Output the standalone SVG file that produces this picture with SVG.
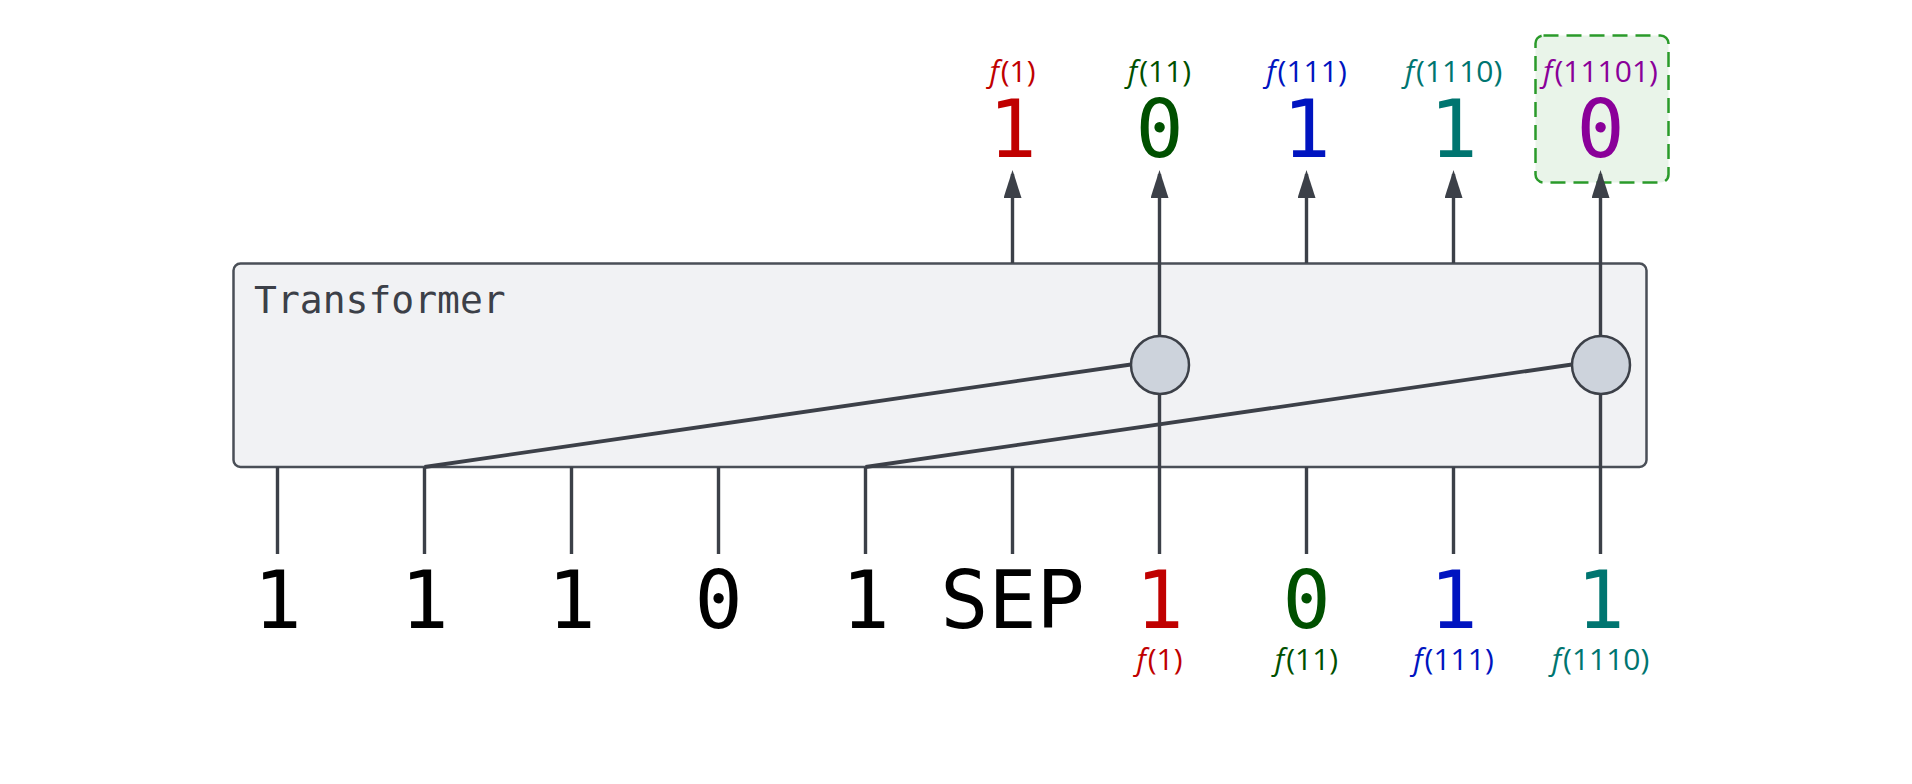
<svg xmlns="http://www.w3.org/2000/svg" width="1912" height="784" viewBox="0 0 1912 784">
<style>
.ln{stroke:#3c4048;stroke-width:3.4;fill:none}
.dg{stroke:#3c4048;stroke-width:3.8;fill:none}
.tok{font-family:"DejaVu Sans Mono",monospace;font-size:80px;text-anchor:middle}
.lab{font-family:"Open Sans","Noto Sans",sans-serif;font-size:30px;text-anchor:middle}
.it{font-style:italic}
.red{fill:#c00000}.grn{fill:#005000}.blu{fill:#0014c0}.tea{fill:#007570}.pur{fill:#8a0099}
</style>
<defs>
<marker id="ah" viewBox="0 0 28 18" markerWidth="28" markerHeight="18" refX="24" refY="9" orient="auto" markerUnits="userSpaceOnUse">
<path d="M0,0 L28,9 L0,18 z" fill="#3c4048"/>
</marker>
</defs>
<rect width="1912" height="784" fill="#ffffff"/>
<g id="transformer">
<rect x="233.5" y="263.5" width="1413" height="203.5" rx="7" fill="#f1f2f4" stroke="#4a4f57" stroke-width="2.5"/>
<text x="254" y="313" font-family="DejaVu Sans Mono,monospace" font-size="38" fill="#3c4048">Transformer</text>
</g>
<g id="highlight">
<rect x="1535.5" y="35.5" width="133" height="147" rx="8" fill="#e9f4e9" stroke="#2a9a2a" stroke-width="2.5" stroke-dasharray="15 8"/>
</g>
<g id="connectors">
<line class="ln" x1="277.5" y1="554" x2="277.5" y2="467"/>
<line class="ln" x1="424.5" y1="554" x2="424.5" y2="467"/>
<line class="ln" x1="571.5" y1="554" x2="571.5" y2="467"/>
<line class="ln" x1="718.5" y1="554" x2="718.5" y2="467"/>
<line class="ln" x1="865.5" y1="554" x2="865.5" y2="467"/>
<line class="ln" x1="1012.5" y1="554" x2="1012.5" y2="467"/>
<line class="ln" x1="1159.5" y1="554" x2="1159.5" y2="394"/>
<line class="ln" x1="1306.5" y1="554" x2="1306.5" y2="467"/>
<line class="ln" x1="1453.5" y1="554" x2="1453.5" y2="467"/>
<line class="ln" x1="1600.5" y1="554" x2="1600.5" y2="394"/>
<line class="dg" x1="424.5" y1="467" x2="1131" y2="364.5"/>
<line class="dg" x1="865.5" y1="467" x2="1572" y2="364.5"/>
<line class="ln" x1="1012.5" y1="263" x2="1012.5" y2="174" marker-end="url(#ah)"/>
<line class="ln" x1="1159.5" y1="336" x2="1159.5" y2="174" marker-end="url(#ah)"/>
<line class="ln" x1="1306.5" y1="263" x2="1306.5" y2="174" marker-end="url(#ah)"/>
<line class="ln" x1="1453.5" y1="263" x2="1453.5" y2="174" marker-end="url(#ah)"/>
<line class="ln" x1="1600.5" y1="336" x2="1600.5" y2="174" marker-end="url(#ah)"/>
</g>
<g id="attn1"><circle cx="1160" cy="365" r="29" fill="#cdd3dc" stroke="#3c4048" stroke-width="2.5"/></g>
<g id="attn2"><circle cx="1601" cy="365" r="29" fill="#cdd3dc" stroke="#3c4048" stroke-width="2.5"/></g>
<g id="inputs">
<text class="tok" x="277.5" y="628" fill="#000">1</text>
<text class="tok" x="424.5" y="628" fill="#000">1</text>
<text class="tok" x="571.5" y="628" fill="#000">1</text>
<text class="tok" x="718.5" y="628" fill="#000">0</text>
<text class="tok" x="865.5" y="628" fill="#000">1</text>
<text class="tok" x="1012.5" y="628" fill="#000">SEP</text>
<text class="tok red" x="1159.5" y="628">1</text>
<text class="tok grn" x="1306.5" y="628">0</text>
<text class="tok blu" x="1453.5" y="628">1</text>
<text class="tok tea" x="1600.5" y="628">1</text>
<text class="lab red" x="1159.5" y="670"><tspan class="it">f</tspan><tspan dx="2">(1)</tspan></text>
<text class="lab grn" x="1306.5" y="670"><tspan class="it">f</tspan><tspan dx="2">(11)</tspan></text>
<text class="lab blu" x="1453.5" y="670"><tspan class="it">f</tspan><tspan dx="2">(111)</tspan></text>
<text class="lab tea" x="1600.5" y="670"><tspan class="it">f</tspan><tspan dx="2">(1110)</tspan></text>
</g>
<g id="outputs">
<text class="lab red" x="1012.5" y="82"><tspan class="it">f</tspan><tspan dx="2">(1)</tspan></text>
<text class="lab grn" x="1159.5" y="82"><tspan class="it">f</tspan><tspan dx="2">(11)</tspan></text>
<text class="lab blu" x="1306.5" y="82"><tspan class="it">f</tspan><tspan dx="2">(111)</tspan></text>
<text class="lab tea" x="1453.5" y="82"><tspan class="it">f</tspan><tspan dx="2">(1110)</tspan></text>
<text class="lab pur" x="1600.5" y="82"><tspan class="it">f</tspan><tspan dx="2">(11101)</tspan></text>
<text class="tok red" x="1012.5" y="157">1</text>
<text class="tok grn" x="1159.5" y="157">0</text>
<text class="tok blu" x="1306.5" y="157">1</text>
<text class="tok tea" x="1453.5" y="157">1</text>
<text class="tok pur" x="1600.5" y="157">0</text>
</g>
</svg>
